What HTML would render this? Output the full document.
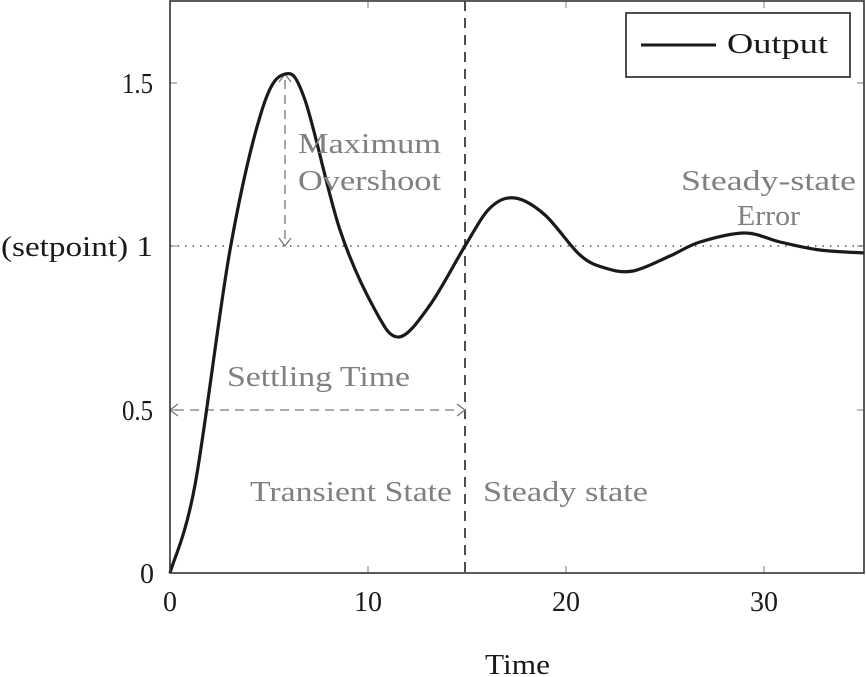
<!DOCTYPE html>
<html><head><style>body{margin:0;background:#fff}svg{display:block}text{font-family:"Liberation Serif",serif}</style></head><body>
<svg width="866" height="677" xmlns="http://www.w3.org/2000/svg">
<g stroke="#999" stroke-width="1.3">
<line x1="368" y1="573" x2="368" y2="566"/><line x1="566" y1="573" x2="566" y2="566"/><line x1="764" y1="573" x2="764" y2="566"/>
<line x1="368" y1="1" x2="368" y2="8"/><line x1="566" y1="1" x2="566" y2="8"/><line x1="764" y1="1" x2="764" y2="8"/>
<line x1="170" y1="410" x2="177" y2="410"/><line x1="170" y1="246" x2="177" y2="246"/><line x1="170" y1="83" x2="177" y2="83"/>
<line x1="864" y1="410" x2="857" y2="410"/><line x1="864" y1="246" x2="857" y2="246"/><line x1="864" y1="83" x2="857" y2="83"/>
</g>
<line x1="170" y1="246" x2="864" y2="246" stroke="#333" stroke-width="1.3" stroke-dasharray="1.5,6"/>
<line x1="465" y1="1" x2="465" y2="573" stroke="#222" stroke-width="1.6" stroke-dasharray="10,7"/>
<g stroke="#777" stroke-width="1.3" fill="none">
<line x1="175" y1="410" x2="460" y2="410" stroke-dasharray="9,6"/>
<path d="M178 404 L170 410 L178 416 M457 404 L465 410 L457 416"/>
<line x1="285" y1="80" x2="285" y2="240" stroke-dasharray="9,6"/>
<path d="M279 82 L285 74 L291 82 M279 238 L285 246 L291 238"/>
</g>
<path fill="none" stroke="#1a1a1a" stroke-width="3.2" stroke-linejoin="round" d="M170,573 C174,558 185,538.8 195,485 S218.8,312.5 230,250 S252.8,139.3 262,110 S277.8,75.7 285,74 S295.8,74 305,100 S328.3,195 340,230 S365.2,292.2 375,310 S389.8,337.8 399,337 S419,320.2 430,305 S455,262.2 465,246 S481.7,216 490,208 S505.8,196.8 515,198 S534.2,205.5 545,215 S570,246.2 580,255 S596.2,265.3 605,268 S622.2,273 633,271 S658.8,260.8 670,256 S687.5,245.8 700,242 S731.7,233 745,233 S767.5,239.2 780,242 S806,248.2 820,250 S857,252.5 864,253"/>
<rect x="170" y="1" width="694" height="572" fill="none" stroke="#333" stroke-width="1.6"/>
<rect x="626" y="13" width="224" height="64" fill="#fff" stroke="#222" stroke-width="1.6"/>
<line x1="641" y1="45" x2="716" y2="45" stroke="#1a1a1a" stroke-width="3"/>
<text x="727" y="53" font-size="28" fill="#1a1a1a" textLength="101" lengthAdjust="spacingAndGlyphs">Output</text>
<g font-size="28" fill="#808080">
<text x="298" y="153" textLength="143" lengthAdjust="spacingAndGlyphs">Maximum</text>
<text x="298" y="190" textLength="143" lengthAdjust="spacingAndGlyphs">Overshoot</text>
<text x="681" y="190" textLength="175" lengthAdjust="spacingAndGlyphs">Steady-state</text>
<text x="737" y="225" textLength="63" lengthAdjust="spacingAndGlyphs">Error</text>
<text x="227" y="386" textLength="183" lengthAdjust="spacingAndGlyphs">Settling Time</text>
<text x="250" y="501" textLength="202" lengthAdjust="spacingAndGlyphs">Transient State</text>
<text x="483" y="501" textLength="165" lengthAdjust="spacingAndGlyphs">Steady state</text>
</g>
<g font-size="28" fill="#1a1a1a">
<text x="122" y="93" textLength="31" lengthAdjust="spacingAndGlyphs">1.5</text>
<text x="1" y="256" textLength="152" lengthAdjust="spacingAndGlyphs">(setpoint) 1</text>
<text x="122" y="420" textLength="31" lengthAdjust="spacingAndGlyphs">0.5</text>
<text x="154" y="583" text-anchor="end">0</text>
<text x="170" y="611" text-anchor="middle">0</text>
<text x="368" y="611" text-anchor="middle">10</text>
<text x="566" y="611" text-anchor="middle">20</text>
<text x="764" y="611" text-anchor="middle">30</text>
<text x="485" y="674" textLength="65" lengthAdjust="spacingAndGlyphs">Time</text>
</g>
</svg></body></html>
